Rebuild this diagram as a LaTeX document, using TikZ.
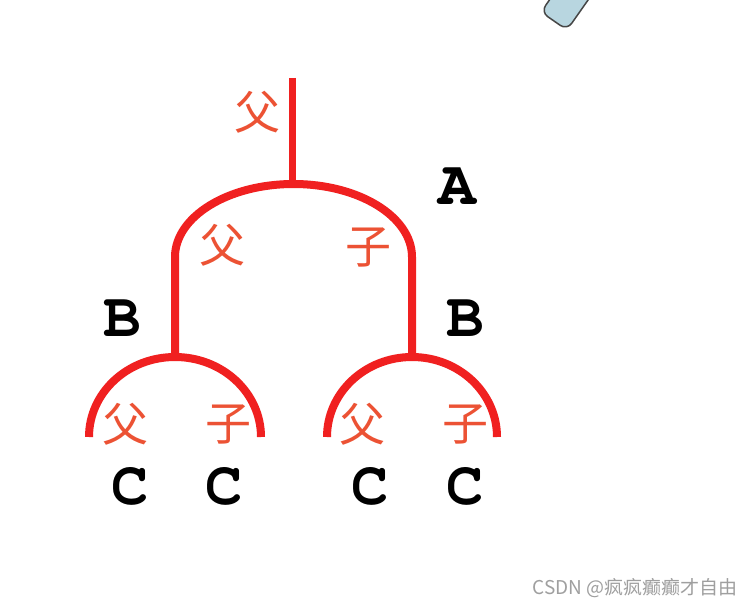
\documentclass[tikz,border=0pt]{standalone}
\usepackage{fontspec}
\usepackage{tikz}
\usetikzlibrary{positioning,calc}
\newfontfamily\cjk{Noto Sans CJK SC}
\newcommand\courierbold{\fontencoding{T1}\fontfamily{pcr}\fontseries{b}\selectfont}
\definecolor{branchred}{RGB}{240,32,32}
\definecolor{labelred}{RGB}{236,82,52}
\definecolor{penblue}{RGB}{184,214,224}

\begin{document}
\begin{tikzpicture}[x=1pt,y=-1pt,
    branch/.style={branchred, line width=8pt},
    zi/.style={text=labelred, inner sep=0pt, font=\cjk\fontsize{46}{46}\selectfont},
    gen/.style={inner sep=0pt, font=\courierbold\fontsize{63}{63}\selectfont},
    leaf/.style={inner sep=0pt, font=\courierbold\fontsize{62}{62}\selectfont}]
    \fill[white] (0,0) rectangle (752,607);
    \useasboundingbox (0,0) rectangle (752,607);

    % Pen in the corner
    \draw[gray!55!black, line width=1.5pt, fill=penblue, rounded corners=8pt]
        (541,12) -- (567,30) -- (601.4,-19) -- (575.4,-37) -- cycle;

    % Branch points
    \coordinate (top) at (292,78);
    \coordinate (a) at (292,184);
    \coordinate (bl) at (175,357);
    \coordinate (br) at (412,357);

    % Stem and first fork
    \draw[branch, line width=7pt] (top) -- (a);
    \draw[branch] (bl) -- (175,257)
        arc[start angle=180, end angle=360, x radius=118.5, y radius=73] -- (br);

    % Second forks
    \foreach \c/\r in {bl/86, br/85} {
        \draw[branch] ($(\c)+(-\r,80)$)
            arc[start angle=180, end angle=360, x radius=\r, y radius=80];
    }

    % Labels
    \node[zi] (z0) at (257,112) {父};
    \node[zi] (za1) at (222,245) {父};
    \node[zi] (za2) at (368,247) {子};
    \foreach \x/\z [count=\i] in {125/父, 228/子, 362/父, 465/子} {
        \node[zi] (zc\i) at (\x,424) {\z};
    }
    \node[gen] (la) at (457,187) {A};
    \node[gen] (lb1) at (122,319) {B};
    \node[gen] (lb2) at (465,319) {B};
    \foreach \x [count=\i] in {130, 224, 370, 465} {
        \node[leaf] (lc\i) at (\x,487) {C};
    }

    \node[anchor=east, text=gray!75, inner sep=0pt,
        font=\cjk\fontsize{19}{19}\selectfont] (mark) at (738,588) {CSDN @疯疯癫癫才自由};
\end{tikzpicture}
\end{document}
